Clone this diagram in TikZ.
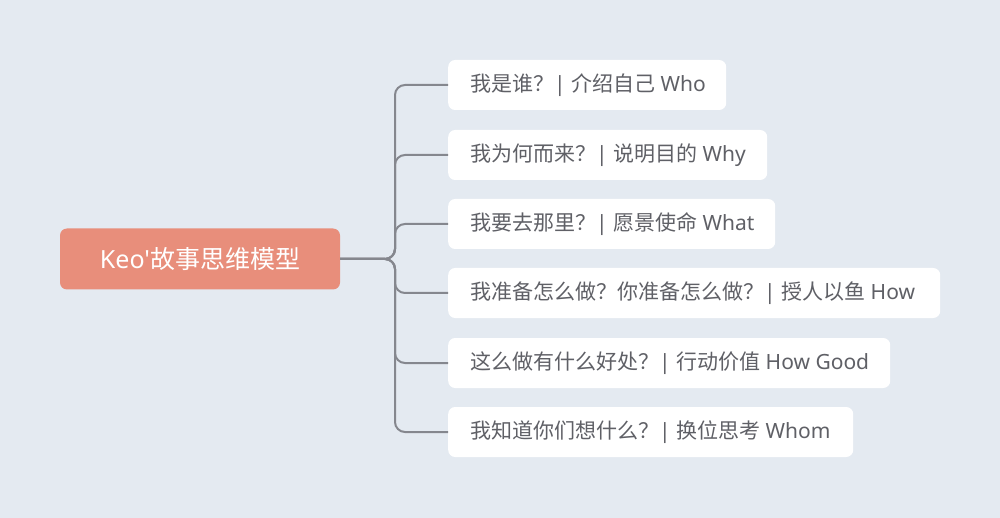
\documentclass[tikz,border=0pt]{standalone}
\usepackage{fontspec}
\setmainfont{Noto Sans CJK SC}
\newfontfamily\lat{Noto Sans}
\definecolor{bg}{HTML}{E4EAF1}
\definecolor{rootc}{HTML}{E88E7B}
\definecolor{linec}{HTML}{85878E}
\definecolor{txtc}{HTML}{5F6066}
\newcommand{\lf}[2]{\makebox[#1][l]{#2}}
\begin{document}
\begin{tikzpicture}[x=1pt,y=-1pt,
  rootbox/.style={fill=rootc, rounded corners=7pt, minimum width=280pt, minimum height=61pt, text=white, font=\fontsize{25}{28}\selectfont, inner sep=0pt},
  leafbox/.style={fill=white, rounded corners=7pt, minimum height=50pt, text=txtc, font=\fontsize{21}{24}\selectfont, anchor=west, inner xsep=22pt, inner ysep=0pt},
  conn/.style={draw=linec, line width=2pt, rounded corners=10pt}]
\fill[bg] (0,0) rectangle (1000,518);
\useasboundingbox (0,0) rectangle (1000,518);
\node[rootbox] (root) at (200,259) {{\lat Keo\char"27}故事思维模型};
\node[leafbox] (l1) at (448,85) {\lf{234pt}{我是谁？{\lat | }介绍自己{\lat\ Who}}};
\node[leafbox] (l2) at (448,155) {\lf{275pt}{我为何而来？{\lat | }说明目的{\lat\ Why}}};
\node[leafbox] (l3) at (448,224) {\lf{283pt}{我要去那里？{\lat | }愿景使命{\lat\ What}}};
\node[leafbox] (l4) at (448,293) {\lf{448pt}{我准备怎么做？你准备怎么做？{\lat | }授人以鱼{\lat\ How}}};
\node[leafbox] (l5) at (448,363) {\lf{398pt}{这么做有什么好处？{\lat | }行动价值{\lat\ How Good}}};
\node[leafbox] (l6) at (448,432) {\lf{361pt}{我知道你们想什么？{\lat | }换位思考{\lat\ Whom}}};
\coordinate (hub) at (395,259);
\foreach \n in {l1,l2,l3,l4,l5,l6}{
  \draw[conn] (root.east) -- (hub) |- (\n.west);
}
\end{tikzpicture}
\end{document}
